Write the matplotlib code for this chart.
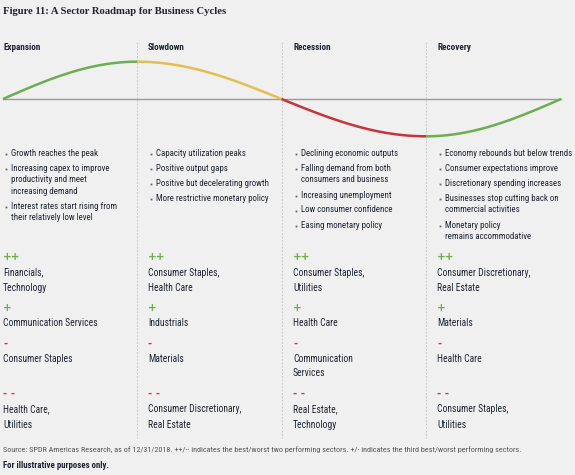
import numpy as np
import matplotlib
matplotlib.use("Agg")
import matplotlib.pyplot as plt
from matplotlib import font_manager

# ---------------- data ----------------
title = "Figure 11: A Sector Roadmap for Business Cycles"
phases = ["Expansion", "Slowdown", "Recession", "Recovery"]
phase_colors = ["#6ab04c", "#e2c04e", "#c9343a", "#6ab04c"]
curve_peak = 1.0      # relative height of cycle peak
curve_trough = -1.0   # relative depth of cycle trough

bullets = [
    [["Growth reaches the peak"],
     ["Increasing capex to improve", "productivity and meet", "increasing demand"],
     ["Interest rates start rising from", "their relatively low level"]],
    [["Capacity utilization peaks"],
     ["Positive output gaps"],
     ["Positive but decelerating growth"],
     ["More restrictive monetary policy"]],
    [["Declining economic outputs"],
     ["Falling demand from both", "consumers and business"],
     ["Increasing unemployment"],
     ["Low consumer confidence"],
     ["Easing monetary policy"]],
    [["Economy rebounds but below trends"],
     ["Consumer expectations improve"],
     ["Discretionary spending increases"],
     ["Businesses stop cutting back on", "commercial activities"],
     ["Monetary policy", "remains accommodative"]],
]

ranks = ["++", "+", "-", "- -"]
rank_colors = ["#6ab04c", "#6ab04c", "#d2393a", "#d2393a"]
sectors = [
    [["Financials,", "Technology"], ["Communication Services"], ["Consumer Staples"], ["Health Care,", "Utilities"]],
    [["Consumer Staples,", "Health Care"], ["Industrials"], ["Materials"], ["Consumer Discretionary,", "Real Estate"]],
    [["Consumer Staples,", "Utilities"], ["Health Care"], ["Communication", "Services"], ["Real Estate,", "Technology"]],
    [["Consumer Discretionary,", "Real Estate"], ["Materials"], ["Health Care"], ["Consumer Staples,", "Utilities"]],
]

source = ("Source: SPDR Americas Research, as of 12/31/2018. ++/-- indicates the best/worst two performing sectors. "
          "+/- indicates the third best/worst performing sectors.")
note = "For illustrative purposes only."

# ---------------- fonts ----------------
avail = {f.name for f in font_manager.fontManager.ttflist}
def pick(*names):
    for n in names:
        if n in avail:
            return n
    return "DejaVu Sans"
narrow = pick("Liberation Sans Narrow", "Roboto Condensed", "Open Sans Condensed", "Roboto", "Liberation Sans")
serif = pick("Liberation Serif", "DejaVu Serif")

BG = "#f0f0f0"
TXT = "#1e2533"

fig = plt.figure(figsize=(5.75, 4.75), dpi=100, facecolor=BG)
ax = fig.add_axes([0, 0, 1, 1])
ax.set_xlim(0, 575)
ax.set_ylim(475, 0)
ax.axis("off")
ax.set_facecolor(BG)

ax.text(3, 12, title, fontsize=7.7, fontweight="bold", family=serif, color=TXT, va="center", ha="left")

col_x = [3, 148, 293, 437]
bounds = [3, 137, 281.5, 426, 561]
base_y = 99
amp = 37.3

# dividers
for dx in bounds[1:4]:
    ax.plot([dx, dx], [42, 438], color="#c8c8c8", lw=0.7, ls=(0, (2, 1.5)), zorder=1)

# baseline
ax.plot([bounds[0], bounds[-1]], [base_y, base_y], color="#9a9a9a", lw=1.0, zorder=2)

# cycle curve, one quarter-wave per phase
for i, c in enumerate(phase_colors):
    t = np.linspace(0, 1, 60)
    xs = bounds[i] + (bounds[i + 1] - bounds[i]) * t
    s = np.sin((i + t) * np.pi / 2)
    ys = base_y - amp * np.where(s >= 0, curve_peak, -curve_trough) * s
    ax.plot(xs, ys, color=c, lw=1.8, solid_capstyle="butt", zorder=3)

# phase labels
for x, p in zip(col_x, phases):
    ax.text(x, 47, p, fontsize=6.6, fontweight="bold", family=narrow, color=TXT, va="center", ha="left")

# bullets
for x, items in zip(col_x, bullets):
    y = 153.5
    for item in items:
        ax.plot(x + 3, y + 0.5, marker="s", ms=1.3, mew=0, color="#666666", zorder=3)
        for k, line in enumerate(item):
            ax.text(x + 8, y + k * 11.5, line, fontsize=6.4, family=narrow, color=TXT, va="center", ha="left")
        y += 15 + (len(item) - 1) * 11.5

# sectors
rank_y = [257, 308, 344, 394]
for x, col in zip(col_x, sectors):
    for r, (ry, rk, rc) in enumerate(zip(rank_y, ranks, rank_colors)):
        ax.text(x, ry, rk, fontsize=7.5, fontweight="bold", family="DejaVu Sans", color=rc, va="center", ha="left")
        lines = col[r]
        step = 15.5 if r in (0, 3) else 13
        for k, line in enumerate(lines):
            ax.text(x, ry + 15.5 + k * step, line, fontsize=6.9, family=narrow, color=TXT, va="center", ha="left")

ax.text(3, 450, source, fontsize=5.9, family=narrow, color="#555555", va="center", ha="left")
ax.text(3, 465, note, fontsize=6.4, fontweight="bold", family=narrow, color=TXT, va="center", ha="left")

fig.savefig("out.png", dpi=100, facecolor=BG)
